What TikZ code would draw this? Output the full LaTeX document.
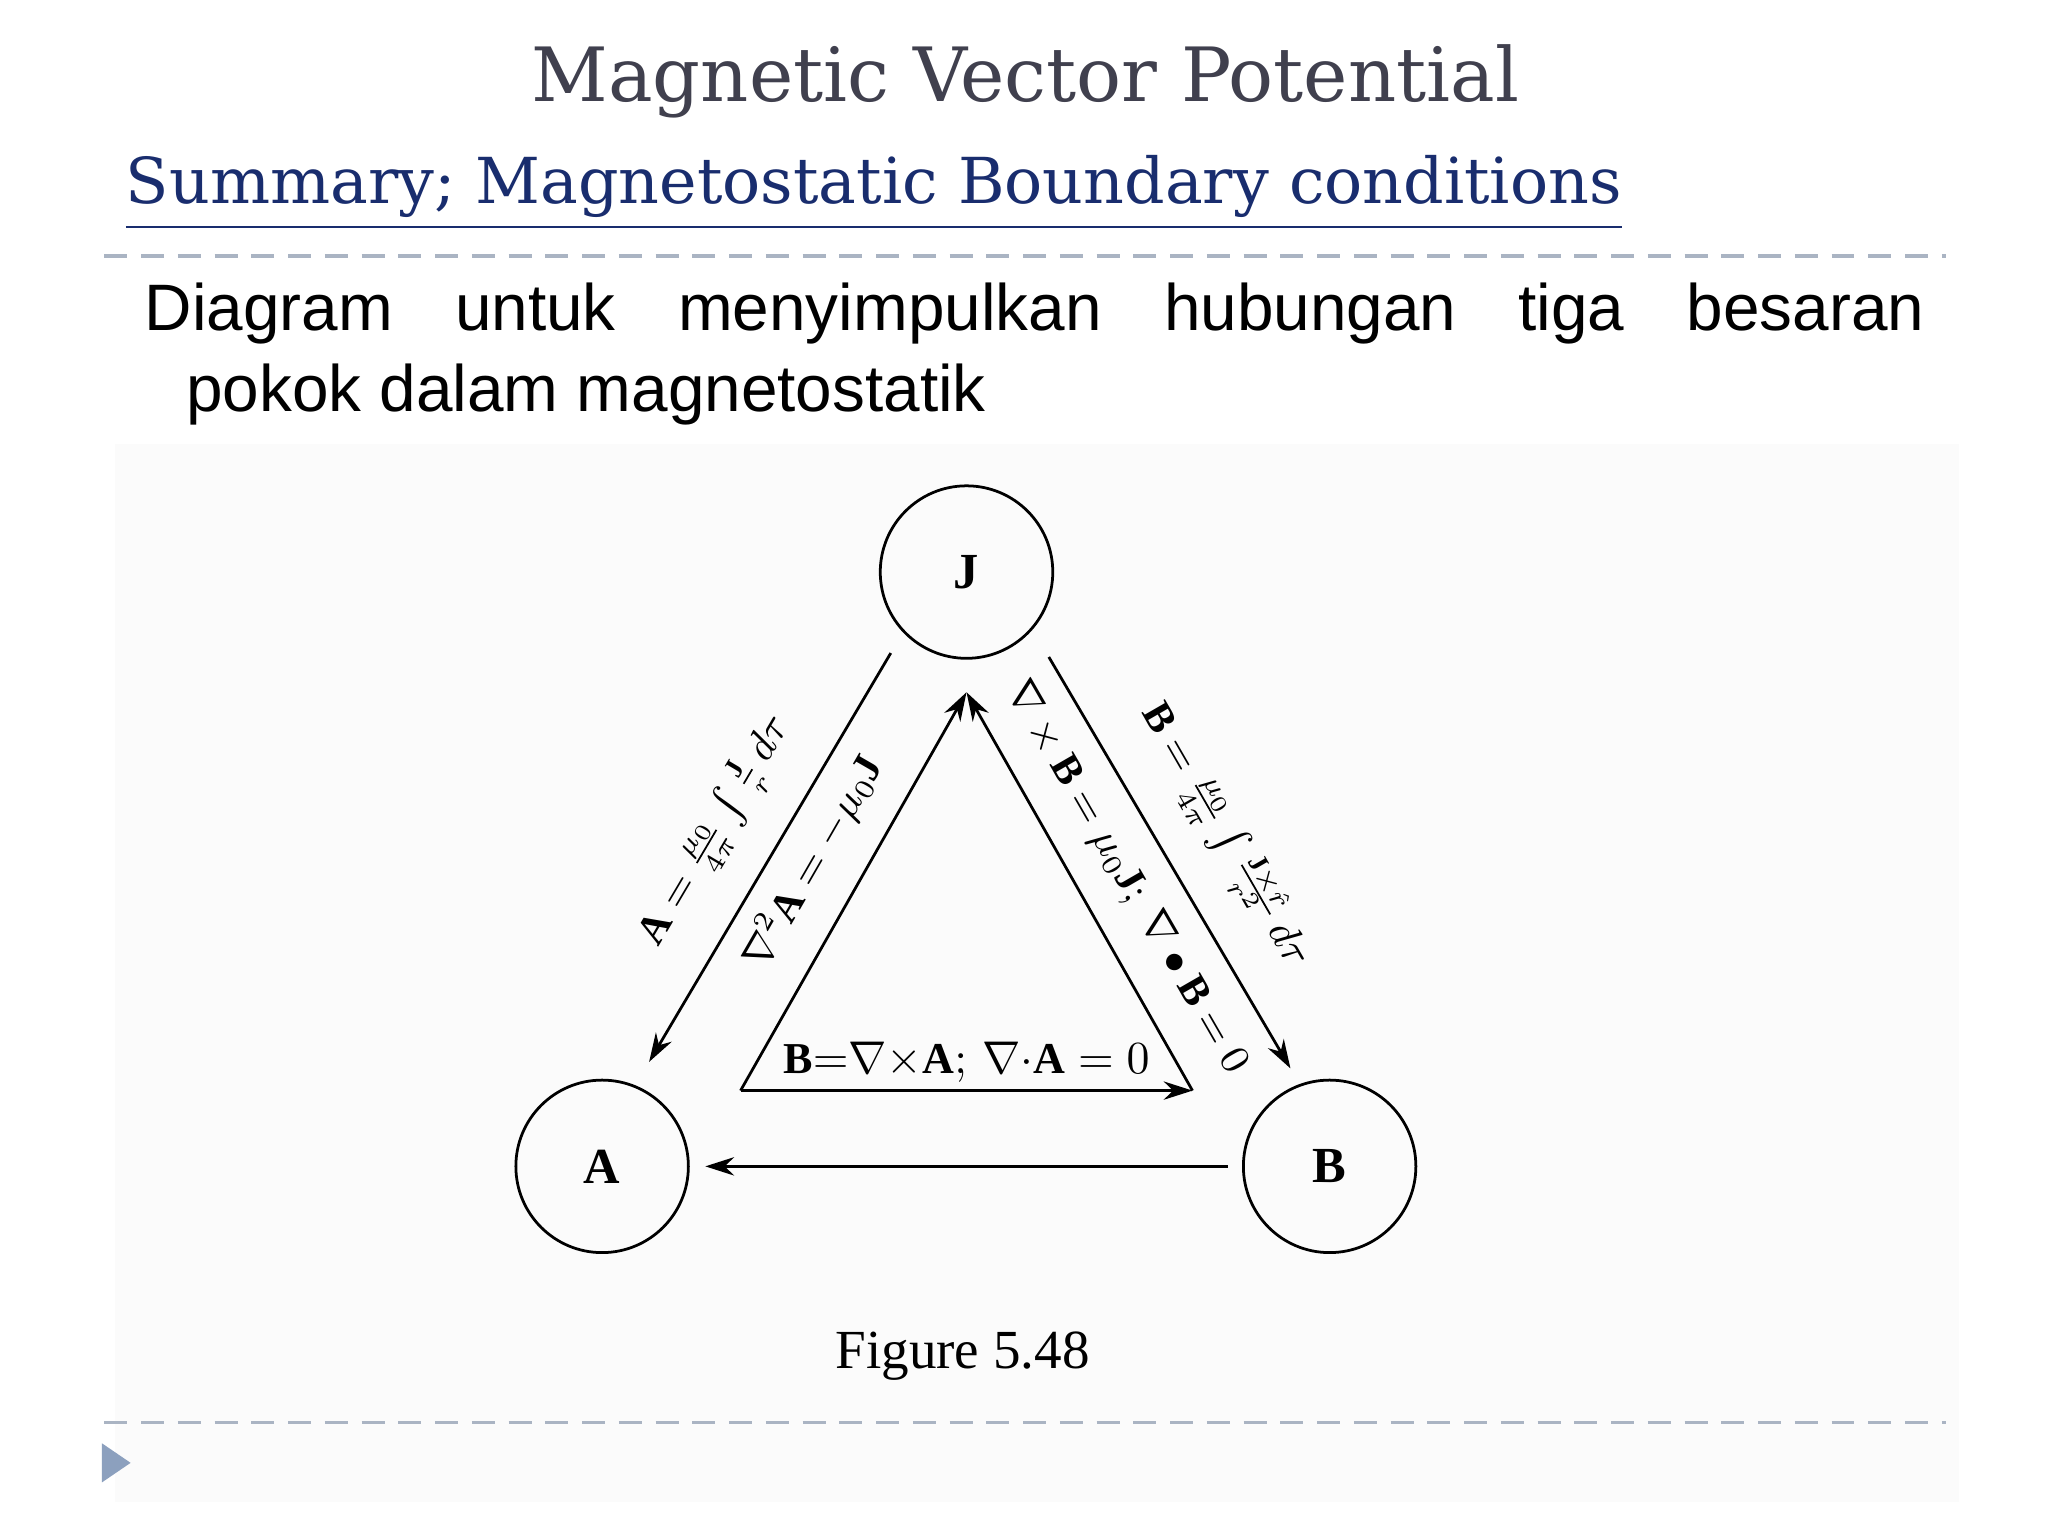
\documentclass[tikz,border=0pt]{standalone}
\usepackage{fontspec}
\usepackage{amsmath}
\setmainfont{Liberation Serif}
\newfontfamily\bodyfont{Liberation Sans}
\newfontfamily\headfont{DejaVu Serif}
\usetikzlibrary{arrows.meta}
\definecolor{titlegrey}{RGB}{64,64,78}
\definecolor{subblue}{RGB}{25,45,110}
\definecolor{dashgrey}{RGB}{170,180,195}
\definecolor{markblue}{RGB}{140,160,190}
\tikzset{
  circ/.style={draw,circle,minimum size=1.32cm,inner sep=0pt,line width=0.6pt,font=\fontsize{11}{13}\selectfont\bfseries},
  conn/.style={line width=0.6pt,-{Stealth[length=2.2mm,width=1.4mm]}},
  lab/.style={font=\fontsize{9}{10}\selectfont,inner sep=0pt},
  dline/.style={dashgrey,dashed,line width=0.7pt,dash pattern=on 5pt off 3pt}
}
\begin{document}
\begin{tikzpicture}[x=0.01cm,y=-0.01cm]
\useasboundingbox (0,0) rectangle (1568,1176);
\fill[white] (0,0) rectangle (1568,1176);
\fill[black!1.5] (88,340) rectangle (1500,1150);
\node[titlegrey,font=\fontsize{16.3}{18}\selectfont\headfont] (title) at (785,62) {Magnetic Vector Potential};
\node[subblue,font=\fontsize{13.8}{16}\selectfont\headfont,anchor=west] (sub) at (84,148) {\underline{Summary; Magnetostatic Boundary conditions}};
\draw[dline] (80,196) -- (1490,196);
\draw[dline] (80,1089) -- (1490,1089);
\node[anchor=west,font=\fontsize{14.3}{17}\selectfont\bodyfont,inner sep=0pt] (l1) at (110,240) {\makebox[13.62cm][s]{Diagram untuk menyimpulkan hubungan tiga besaran}};
\node[anchor=west,font=\fontsize{14.3}{17}\selectfont\bodyfont,inner sep=0pt] (l2) at (142,302) {pokok dalam magnetostatik};
\node[circ] (J) at (740,438) {J};
\node[circ] (A) at (461,893) {A};
\node[circ] (B) at (1018,893) {B};
\coordinate (tl) at (567,835);
\coordinate (tr) at (913,835);
\coordinate (tt) at (740,530);
\draw[conn] (682,500) -- (497,813);
\draw[conn] (803,503) -- (988,818);
\draw[conn] (tl) -- (tt);
\draw[conn] (tr) -- (tt);
\draw[conn] (tl) -- (tr);
\draw[conn] (940,893) -- (540,893);
\node[lab,rotate=59.4] (lo) at (548,636) {$\mathbf{A}=\frac{\mu_0}{4\pi}\int\frac{\mathbf{J}}{r}\,d\tau$};
\node[lab,rotate=60] (li) at (622,660) {$\nabla^2\mathbf{A}=-\mu_0\mathbf{J}$};
\node[lab,rotate=-60] (ri) at (862,672) {$\nabla\times\mathbf{B}=\mu_0\mathbf{J};\ \nabla\bullet\mathbf{B}=0$};
\node[lab,rotate=-60] (ro) at (938,640) {$\mathbf{B}=\frac{\mu_0}{4\pi}\int\frac{\mathbf{J}\times\hat{r}}{r^2}\,d\tau$};
\node[lab,font=\fontsize{9.6}{11}\selectfont] (bl) at (740,813) {$\mathbf{B}{=}\nabla{\times}\mathbf{A};\,\nabla{\cdot}\mathbf{A}=0$};
\node[font=\fontsize{12}{14}\selectfont] (fig) at (737,1038) {Figure 5.48};
\fill[markblue] (78,1105) -- (100,1120) -- (78,1135) -- cycle;
\end{tikzpicture}
\end{document}
